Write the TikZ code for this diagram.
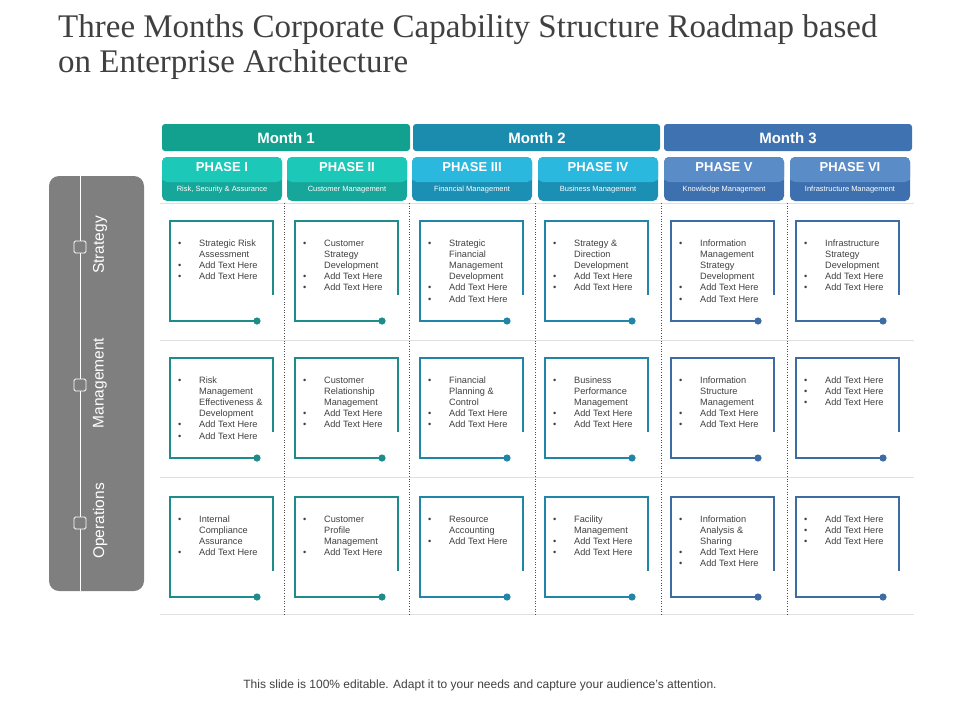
\documentclass[tikz,border=0pt]{standalone}
\usepackage{fontspec}
\setmainfont{Liberation Sans}
\newfontfamily\titlefont{Liberation Serif}
\usetikzlibrary{positioning}
\definecolor{tealA}{HTML}{12A08F}
\definecolor{tealT}{HTML}{1CC8B8}
\definecolor{tealB}{HTML}{17A79A}
\definecolor{tealF}{HTML}{1F8C8C}
\definecolor{cyanA}{HTML}{1B8BAE}
\definecolor{cyanT}{HTML}{2BB8DE}
\definecolor{cyanB}{HTML}{1C8FB4}
\definecolor{cyanF}{HTML}{2185A8}
\definecolor{blueA}{HTML}{3E72B0}
\definecolor{blueT}{HTML}{5A8CC8}
\definecolor{blueB}{HTML}{3E6FAE}
\definecolor{blueF}{HTML}{3D6BA3}
\definecolor{panel}{HTML}{7F7F7F}
\definecolor{txt}{HTML}{404040}
\newcommand{\itm}[1]{\textbullet & #1\\}
\newcommand{\cnt}[1]{ & #1\\}
% one card: left x, top y, colour, text rows
\newcommand{\card}[4]{%
  \draw[#3, line width=1.6pt] (#1+103,#2+74) -- (#1+103,#2) -- (#1,#2) -- (#1,#2+100) -- (#1+86,#2+100);
  \fill[#3] (#1+87,#2+100) circle (3.6);
  \node[celltext, anchor=north west] at (#1+8,#2+17)
    {\begin{tabular}{@{}p{21pt}@{}p{75pt}@{}}#4\end{tabular}};}
\begin{document}
\begin{tikzpicture}[x=1pt,y=-1pt,
    monthbox/.style={font=\bfseries\fontsize{15}{17}\selectfont, text=white},
    phasename/.style={font=\bfseries\fontsize{13}{15}\selectfont, text=white},
    phasesub/.style={font=\fontsize{7.5}{9}\selectfont, text=white},
    celltext/.style={font=\fontsize{9.2}{11.2}\selectfont, text=txt, inner sep=0pt},
    rowlabel/.style={rotate=90, font=\fontsize{15.5}{17}\selectfont, text=white},
    gridline/.style={draw=black!12, line width=0.6pt},
    colsep/.style={draw=black!70, dotted, line width=0.6pt}]
\useasboundingbox (0,0) rectangle (960,720);

% title
\node[anchor=north west, align=left, text=txt, inner sep=0pt, font=\titlefont\fontsize{33}{35}\selectfont]
  (title) at (58,14) {Three Months Corporate Capability Structure Roadmap based\\on Enterprise Architecture};

% months
\fill[tealA, rounded corners=3pt] (162,124) rectangle (410,151);
\fill[cyanA, rounded corners=3pt] (413,124) rectangle (660,151);
\fill[blueA, rounded corners=3pt] (664,124) rectangle (912,151);
\node[monthbox] (m1) at (286,138) {Month 1};
\node[monthbox] (m2) at (537,138) {Month 2};
\node[monthbox] (m3) at (788,138) {Month 3};

% phases
\foreach \x/\ct/\cb/\nm/\sub in {
    162/tealT/tealB/PHASE I/{Risk, Security \& Assurance},
    287/tealT/tealB/PHASE II/{Customer Management},
    412/cyanT/cyanB/PHASE III/{Financial Management},
    538/cyanT/cyanB/PHASE IV/{Business Management},
    664/blueT/blueB/PHASE V/{Knowledge Management},
    790/blueT/blueB/PHASE VI/{Infrastructure Management}} {
  \fill[\cb, rounded corners=5pt] (\x,157) rectangle (\x+120,201);
  \fill[\ct, rounded corners=5pt] (\x,157) rectangle (\x+120,182);
  \fill[\ct] (\x,174) rectangle (\x+120,180);
  \node[phasename] at (\x+60,167) {\nm};
  \node[phasesub] at (\x+60,190) {\sub};
}

% grid
\foreach \y in {203,340,477,614}
  \draw[gridline] (160,\y) -- (914,\y);
\foreach \x in {284,409,535,661,787}
  \draw[colsep] (\x,203) -- (\x,614);

% left panel
\fill[panel, rounded corners=10pt] (49,176) rectangle (144,591);
\draw[white, line width=0.8pt] (80,176) -- (80,591);
\foreach \y/\lab in {247/Strategy,385/Management,523/Operations} {
  \draw[white, fill=panel, rounded corners=1.5pt, line width=0.8pt] (74,\y-6) rectangle (86,\y+6);
  \node[rowlabel] at (100,\y-2) {\lab};
}

% strategy row
\card{170}{221}{tealF}{\itm{Strategic Risk}\cnt{Assessment}\itm{Add Text Here}\itm{Add Text Here}}
\card{295}{221}{tealF}{\itm{Customer}\cnt{Strategy}\cnt{Development}\itm{Add Text Here}\itm{Add Text Here}}
\card{420}{221}{cyanF}{\itm{Strategic}\cnt{Financial}\cnt{Management}\cnt{Development}\itm{Add Text Here}\itm{Add Text Here}}
\card{545}{221}{cyanF}{\itm{Strategy \&}\cnt{Direction}\cnt{Development}\itm{Add Text Here}\itm{Add Text Here}}
\card{671}{221}{blueF}{\itm{Information}\cnt{Management}\cnt{Strategy}\cnt{Development}\itm{Add Text Here}\itm{Add Text Here}}
\card{796}{221}{blueF}{\itm{Infrastructure}\cnt{Strategy}\cnt{Development}\itm{Add Text Here}\itm{Add Text Here}}

% management row
\card{170}{358}{tealF}{\itm{Risk}\cnt{Management}\cnt{Effectiveness \&}\cnt{Development}\itm{Add Text Here}\itm{Add Text Here}}
\card{295}{358}{tealF}{\itm{Customer}\cnt{Relationship}\cnt{Management}\itm{Add Text Here}\itm{Add Text Here}}
\card{420}{358}{cyanF}{\itm{Financial}\cnt{Planning \&}\cnt{Control}\itm{Add Text Here}\itm{Add Text Here}}
\card{545}{358}{cyanF}{\itm{Business}\cnt{Performance}\cnt{Management}\itm{Add Text Here}\itm{Add Text Here}}
\card{671}{358}{blueF}{\itm{Information}\cnt{Structure}\cnt{Management}\itm{Add Text Here}\itm{Add Text Here}}
\card{796}{358}{blueF}{\itm{Add Text Here}\itm{Add Text Here}\itm{Add Text Here}}

% operations row
\card{170}{497}{tealF}{\itm{Internal}\cnt{Compliance}\cnt{Assurance}\itm{Add Text Here}}
\card{295}{497}{tealF}{\itm{Customer}\cnt{Profile}\cnt{Management}\itm{Add Text Here}}
\card{420}{497}{cyanF}{\itm{Resource}\cnt{Accounting}\itm{Add Text Here}}
\card{545}{497}{cyanF}{\itm{Facility}\cnt{Management}\itm{Add Text Here}\itm{Add Text Here}}
\card{671}{497}{blueF}{\itm{Information}\cnt{Analysis \&}\cnt{Sharing}\itm{Add Text Here}\itm{Add Text Here}}
\card{796}{497}{blueF}{\itm{Add Text Here}\itm{Add Text Here}\itm{Add Text Here}}

% footer
\node[text=txt, font=\fontsize{12}{14}\selectfont] (foot) at (480,685)
  {This slide is 100\% editable. Adapt it to your needs and capture your audience's attention.};
\end{tikzpicture}
\end{document}
